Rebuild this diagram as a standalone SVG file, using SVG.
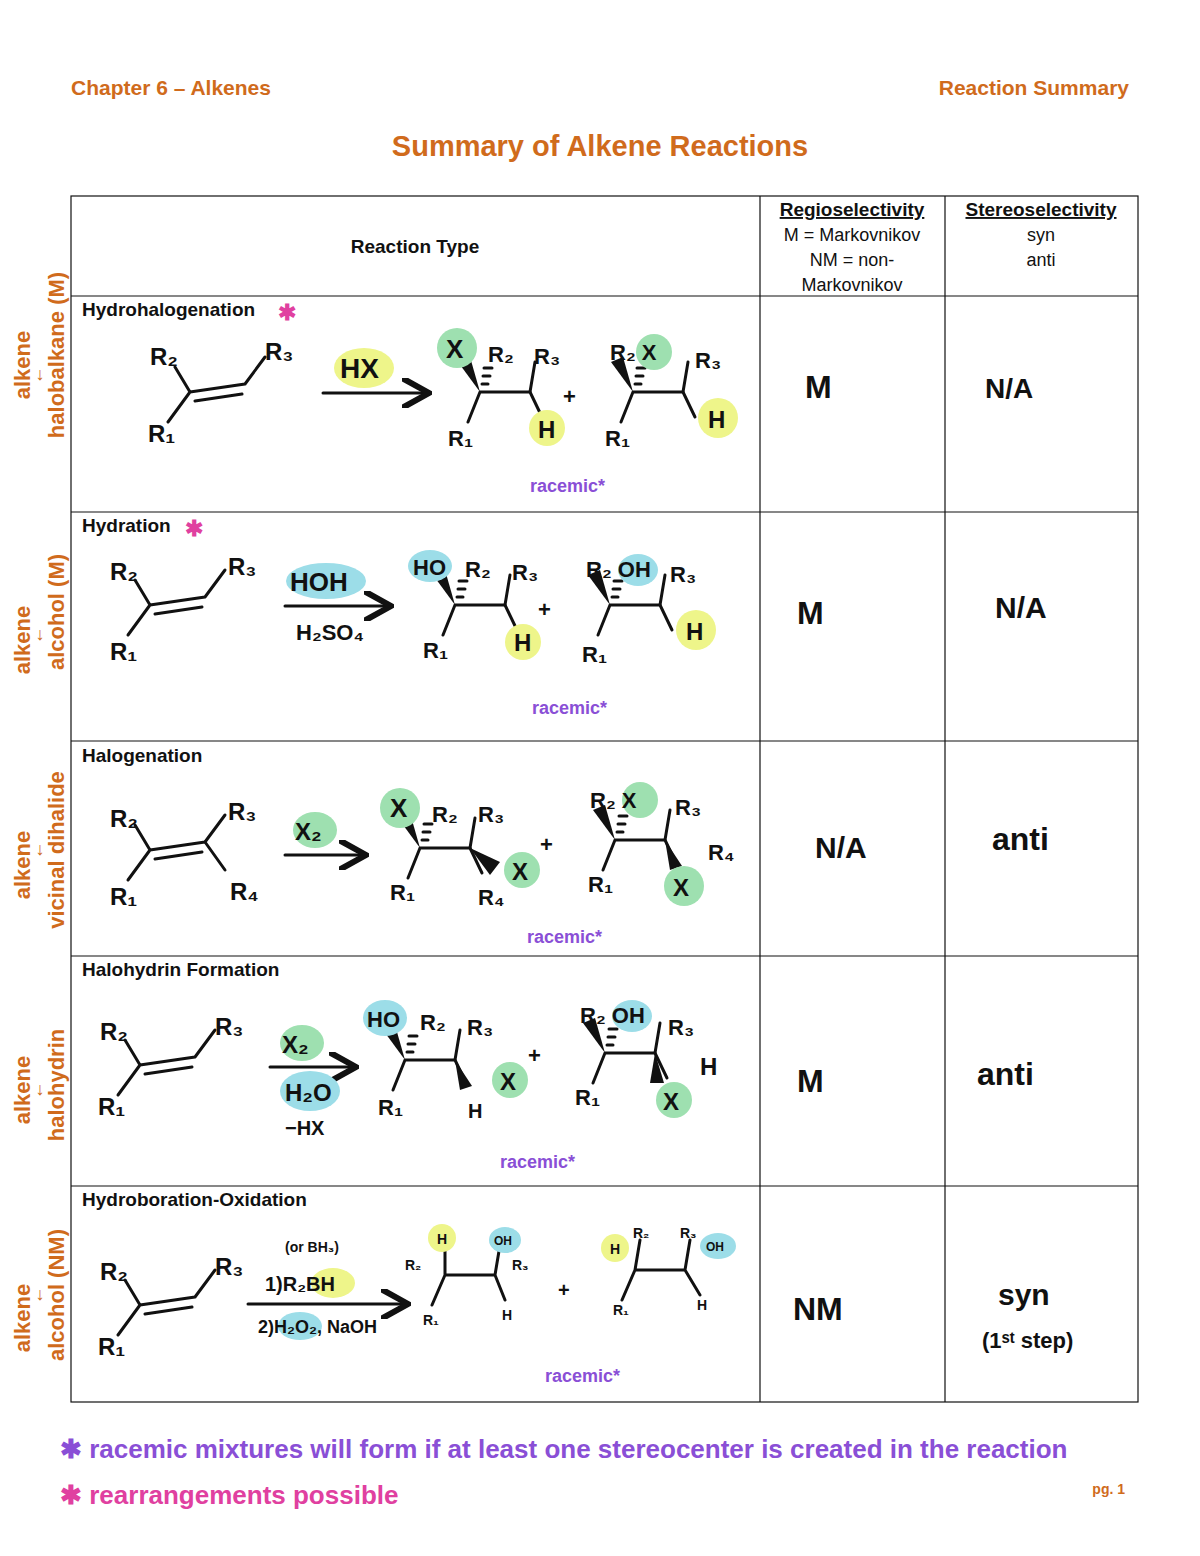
<svg xmlns="http://www.w3.org/2000/svg" width="1200" height="1556" viewBox="0 0 1200 1556">
<style>
.hd{font-family:"Liberation Sans",Arial,sans-serif;font-weight:bold;fill:#d06b1c}
.t{font-family:"Liberation Sans",Arial,sans-serif;fill:#111}
.b{font-weight:bold}
.hw{font-family:"Liberation Sans",Arial,sans-serif;font-weight:bold;fill:#111}
.pu{font-family:"Liberation Sans",Arial,sans-serif;fill:#8a4fd6;font-weight:bold}
.pk{font-family:"Liberation Sans",Arial,sans-serif;fill:#e040a0;font-weight:bold}
.or{font-family:"Liberation Sans",Arial,sans-serif;fill:#d06b1c;font-weight:bold}
.ln{stroke:#111;stroke-width:3;fill:none;stroke-linecap:round}
.grid{stroke:#111;stroke-width:1.2;fill:none}
.y{fill:#eef58a}.g{fill:#9ee0b0}.c{fill:#9cdde8}
</style>
<defs>
<marker id="ar" markerWidth="10" markerHeight="10" refX="8" refY="5" orient="auto"><path d="M0,0 L9,5 L0,10" fill="none" stroke="#111" stroke-width="2"/></marker>
<g id="alk"><path class="ln" d="M0,0 L-15,-25 M0,0 L-22,30 M55,-8 L75,-35 M0,0 L55,-8 M5,9 L52,2"/></g>
<g id="prod"><path class="ln" d="M0,0 L50,0 M0,0 L-12,30 M50,0 L62,25"/><polygon points="0,0 -22,-30 -10,-35" fill="#111"/><path class="ln" stroke-width="2" d="M2,-8 L8,-8 M3,-16 L10,-16 M4,-24 L12,-24"/><path class="ln" d="M50,0 L55,-30"/></g>
</defs>
<text class="hd" x="71" y="95" font-size="21">Chapter 6 – Alkenes</text>
<text class="hd" x="1129" y="95" font-size="21" text-anchor="end">Reaction Summary</text>
<text class="hd" x="600" y="156" font-size="29" text-anchor="middle">Summary of Alkene Reactions</text>
<g id="table" class="grid">
<rect x="71" y="196" width="1067" height="1206"/>
<path d="M760,196 V1402 M945,196 V1402 M71,296 H1138 M71,512 H1138 M71,741 H1138 M71,956 H1138 M71,1186 H1138"/>
</g>
<g id="header">
<text class="t b" x="415" y="253" font-size="19" text-anchor="middle">Reaction Type</text>
<text class="t b" x="852" y="216" font-size="19" text-anchor="middle" text-decoration="underline">Regioselectivity</text>
<text class="t" x="852" y="241" font-size="18" text-anchor="middle">M = Markovnikov</text>
<text class="t" x="852" y="266" font-size="18" text-anchor="middle">NM = non-</text>
<text class="t" x="852" y="291" font-size="18" text-anchor="middle">Markovnikov</text>
<text class="t b" x="1041" y="216" font-size="19" text-anchor="middle" text-decoration="underline">Stereoselectivity</text>
<text class="t" x="1041" y="241" font-size="18" text-anchor="middle">syn</text>
<text class="t" x="1041" y="266" font-size="18" text-anchor="middle">anti</text>
</g>
<g id="side" class="or" font-size="22">
<text transform="translate(30,365) rotate(-90)" text-anchor="middle">alkene</text>
<text transform="translate(64,355) rotate(-90)" text-anchor="middle">halobalkane (M)</text>
<text transform="translate(30,640) rotate(-90)" text-anchor="middle">alkene</text>
<text transform="translate(64,612) rotate(-90)" text-anchor="middle">alcohol (M)</text>
<text transform="translate(30,865) rotate(-90)" text-anchor="middle">alkene</text>
<text transform="translate(64,850) rotate(-90)" text-anchor="middle">vicinal dihalide</text>
<text transform="translate(30,1090) rotate(-90)" text-anchor="middle">alkene</text>
<text transform="translate(64,1085) rotate(-90)" text-anchor="middle">halohydrin</text>
<text transform="translate(30,1318) rotate(-90)" text-anchor="middle">alkene</text>
<text transform="translate(64,1295) rotate(-90)" text-anchor="middle">alcohol (NM)</text>
<text x="40" y="380" font-size="18" text-anchor="middle">↓</text>
<text x="40" y="640" font-size="18" text-anchor="middle">↓</text>
<text x="40" y="855" font-size="18" text-anchor="middle">↓</text>
<text x="40" y="1095" font-size="18" text-anchor="middle">↓</text>
<text x="40" y="1300" font-size="18" text-anchor="middle">↓</text>
</g>
<g id="row1">
<text class="t b" x="82" y="316" font-size="19">Hydrohalogenation</text><text class="pk" x="278" y="320" font-size="22">✱</text>
<use href="#alk" x="190" y="392"/>
<text class="hw" x="150" y="365" font-size="24">R₂</text><text class="hw" x="265" y="360" font-size="24">R₃</text><text class="hw" x="148" y="442" font-size="24">R₁</text>
<ellipse class="y" cx="364" cy="368" rx="30" ry="20"/><text class="hw" x="340" y="378" font-size="28">HX</text>
<path class="ln" d="M323,393 H426" marker-end="url(#ar)"/>
<use href="#prod" x="480" y="392"/>
<circle class="g" cx="457" cy="348" r="20"/><text class="hw" x="446" y="358" font-size="26">X</text>
<text class="hw" x="488" y="362" font-size="22">R₂</text><text class="hw" x="534" y="364" font-size="22">R₃</text>
<circle class="y" cx="547" cy="428" r="18"/><text class="hw" x="538" y="438" font-size="24">H</text>
<text class="hw" x="448" y="446" font-size="22">R₁</text><text class="hw" x="563" y="404" font-size="22">+</text>
<use href="#prod" x="633" y="392"/>
<circle class="g" cx="654" cy="352" r="18"/><text class="hw" x="610" y="360" font-size="22">R₂ X</text>
<text class="hw" x="695" y="368" font-size="22">R₃</text>
<circle class="y" cx="718" cy="418" r="20"/><text class="hw" x="708" y="428" font-size="24">H</text>
<text class="hw" x="605" y="446" font-size="22">R₁</text>
<text class="pu" x="530" y="492" font-size="18">racemic*</text>
<text class="hw" x="805" y="398" font-size="32">M</text><text class="hw" x="985" y="398" font-size="28">N/A</text>
</g>
<g id="row2">
<text class="t b" x="82" y="532" font-size="19">Hydration</text><text class="pk" x="185" y="536" font-size="22">✱</text>
<use href="#alk" x="150" y="605"/>
<text class="hw" x="110" y="580" font-size="24">R₂</text><text class="hw" x="228" y="575" font-size="24">R₃</text><text class="hw" x="110" y="660" font-size="24">R₁</text>
<ellipse class="c" cx="326" cy="581" rx="40" ry="18"/><text class="hw" x="290" y="591" font-size="26">HOH</text>
<path class="ln" d="M285,606 H388" marker-end="url(#ar)"/>
<text class="hw" x="296" y="640" font-size="22">H₂SO₄</text>
<use href="#prod" x="455" y="605"/>
<ellipse class="c" cx="430" cy="566" rx="22" ry="16"/><text class="hw" x="413" y="575" font-size="22">HO</text>
<text class="hw" x="465" y="577" font-size="22">R₂</text><text class="hw" x="512" y="580" font-size="22">R₃</text>
<circle class="y" cx="523" cy="642" r="18"/><text class="hw" x="514" y="651" font-size="24">H</text>
<text class="hw" x="423" y="658" font-size="22">R₁</text><text class="hw" x="538" y="617" font-size="22">+</text>
<use href="#prod" x="610" y="605"/>
<ellipse class="c" cx="638" cy="570" rx="20" ry="16"/><text class="hw" x="586" y="577" font-size="22">R₂ OH</text>
<text class="hw" x="670" y="582" font-size="22">R₃</text>
<circle class="y" cx="696" cy="630" r="20"/><text class="hw" x="686" y="640" font-size="24">H</text>
<text class="hw" x="582" y="662" font-size="22">R₁</text>
<text class="pu" x="532" y="714" font-size="18">racemic*</text>
<text class="hw" x="797" y="624" font-size="32">M</text><text class="hw" x="995" y="618" font-size="30">N/A</text>
</g>
<g id="row3">
<text class="t b" x="82" y="762" font-size="19">Halogenation</text>
<use href="#alk" x="150" y="850"/><path class="ln" d="M205,842 L225,870"/>
<text class="hw" x="110" y="827" font-size="24">R₂</text><text class="hw" x="228" y="820" font-size="24">R₃</text><text class="hw" x="110" y="905" font-size="24">R₁</text><text class="hw" x="230" y="900" font-size="24">R₄</text>
<ellipse class="g" cx="315" cy="830" rx="22" ry="18"/><text class="hw" x="295" y="840" font-size="24">X₂</text>
<path class="ln" d="M285,855 H363" marker-end="url(#ar)"/>
<use href="#prod" x="420" y="848"/><polygon points="470,848 500,862 490,875" fill="#111"/>
<circle class="g" cx="400" cy="808" r="20"/><text class="hw" x="390" y="817" font-size="26">X</text>
<text class="hw" x="432" y="822" font-size="22">R₂</text><text class="hw" x="478" y="822" font-size="22">R₃</text>
<circle class="g" cx="522" cy="870" r="18"/><text class="hw" x="512" y="880" font-size="24">X</text>
<text class="hw" x="390" y="900" font-size="22">R₁</text><text class="hw" x="478" y="905" font-size="22">R₄</text><text class="hw" x="540" y="852" font-size="22">+</text>
<use href="#prod" x="615" y="840"/><polygon points="665,840 670,870 682,866" fill="#111"/>
<circle class="g" cx="640" cy="800" r="18"/><text class="hw" x="590" y="808" font-size="22">R₂ X</text>
<text class="hw" x="675" y="815" font-size="22">R₃</text><text class="hw" x="708" y="860" font-size="22">R₄</text>
<circle class="g" cx="684" cy="886" r="20"/><text class="hw" x="673" y="896" font-size="24">X</text>
<text class="hw" x="588" y="892" font-size="22">R₁</text>
<text class="pu" x="527" y="943" font-size="18">racemic*</text>
<text class="hw" x="815" y="858" font-size="30">N/A</text><text class="hw" x="992" y="850" font-size="32">anti</text>
</g>
<g id="row4">
<text class="t b" x="82" y="976" font-size="19">Halohydrin Formation</text>
<use href="#alk" x="140" y="1065"/>
<text class="hw" x="100" y="1040" font-size="24">R₂</text><text class="hw" x="215" y="1035" font-size="24">R₃</text><text class="hw" x="98" y="1115" font-size="24">R₁</text>
<ellipse class="g" cx="302" cy="1043" rx="22" ry="18"/><text class="hw" x="282" y="1053" font-size="24">X₂</text>
<path class="ln" d="M270,1067 H353" marker-end="url(#ar)"/>
<ellipse class="c" cx="310" cy="1091" rx="30" ry="20"/><text class="hw" x="285" y="1101" font-size="24">H₂O</text>
<text class="hw" x="285" y="1135" font-size="20">−HX</text>
<use href="#prod" x="405" y="1060"/><polygon points="455,1060 460,1090 472,1086" fill="#111"/>
<ellipse class="c" cx="385" cy="1018" rx="22" ry="18"/><text class="hw" x="367" y="1027" font-size="22">HO</text>
<text class="hw" x="420" y="1030" font-size="22">R₂</text><text class="hw" x="467" y="1035" font-size="22">R₃</text>
<circle class="g" cx="510" cy="1080" r="18"/><text class="hw" x="500" y="1090" font-size="24">X</text>
<text class="hw" x="378" y="1115" font-size="22">R₁</text><text class="hw" x="468" y="1118" font-size="20">H</text><text class="hw" x="528" y="1063" font-size="22">+</text>
<use href="#prod" x="605" y="1053"/><polygon points="655,1053 650,1083 664,1083" fill="#111"/>
<ellipse class="c" cx="632" cy="1016" rx="20" ry="16"/><text class="hw" x="580" y="1023" font-size="22">R₂ OH</text>
<text class="hw" x="668" y="1035" font-size="22">R₃</text><text class="hw" x="700" y="1075" font-size="24">H</text>
<circle class="g" cx="674" cy="1100" r="18"/><text class="hw" x="663" y="1110" font-size="24">X</text>
<text class="hw" x="575" y="1105" font-size="22">R₁</text>
<text class="pu" x="500" y="1168" font-size="18">racemic*</text>
<text class="hw" x="797" y="1092" font-size="32">M</text><text class="hw" x="977" y="1085" font-size="32">anti</text>
</g>
<g id="row5">
<text class="t b" x="82" y="1206" font-size="19">Hydroboration-Oxidation</text>
<use href="#alk" x="140" y="1305"/>
<text class="hw" x="100" y="1280" font-size="24">R₂</text><text class="hw" x="215" y="1275" font-size="24">R₃</text><text class="hw" x="98" y="1355" font-size="24">R₁</text>
<text class="hw" x="285" y="1252" font-size="14">(or BH₃)</text>
<ellipse class="y" cx="333" cy="1283" rx="22" ry="15"/><text class="hw" x="265" y="1291" font-size="20">1)R₂BH</text>
<path class="ln" d="M248,1304 H405" marker-end="url(#ar)"/>
<ellipse class="c" cx="300" cy="1326" rx="22" ry="14"/><text class="hw" x="258" y="1333" font-size="18">2)H₂O₂, NaOH</text>
<path class="ln" d="M445,1275 L495,1275 M445,1275 L432,1305 M495,1275 L505,1300 M445,1275 L445,1245 M495,1275 L500,1245"/>
<circle class="y" cx="442" cy="1238" r="14"/><text class="hw" x="437" y="1244" font-size="14">H</text>
<ellipse class="c" cx="505" cy="1240" rx="16" ry="13"/><text class="hw" x="494" y="1245" font-size="12">OH</text>
<text class="hw" x="405" y="1270" font-size="14">R₂</text><text class="hw" x="512" y="1270" font-size="14">R₃</text>
<text class="hw" x="423" y="1325" font-size="14">R₁</text><text class="hw" x="502" y="1320" font-size="14">H</text>
<text class="hw" x="558" y="1297" font-size="20">+</text>
<path class="ln" d="M635,1270 L685,1270 M635,1270 L622,1300 M685,1270 L700,1295 M635,1270 L640,1240 M685,1270 L690,1240"/>
<circle class="y" cx="615" cy="1248" r="14"/><text class="hw" x="610" y="1254" font-size="14">H</text>
<ellipse class="c" cx="718" cy="1246" rx="18" ry="13"/><text class="hw" x="706" y="1251" font-size="12">OH</text>
<text class="hw" x="633" y="1238" font-size="14">R₂</text><text class="hw" x="680" y="1238" font-size="14">R₃</text>
<text class="hw" x="613" y="1315" font-size="14">R₁</text><text class="hw" x="697" y="1310" font-size="14">H</text>
<text class="pu" x="545" y="1382" font-size="18">racemic*</text>
<text class="hw" x="793" y="1320" font-size="32">NM</text>
<text class="hw" x="998" y="1305" font-size="30">syn</text><text class="hw" x="982" y="1348" font-size="22">(1ˢᵗ step)</text>
</g>
<g id="notes">
<text class="pu" x="60" y="1458" font-size="26">✱ racemic mixtures will form if at least one stereocenter is created in the reaction</text>
<text class="pk" x="60" y="1504" font-size="26">✱ rearrangements possible</text>
<text class="hd" x="1125" y="1494" font-size="14" text-anchor="end">pg. 1</text>
</g>
</svg>
